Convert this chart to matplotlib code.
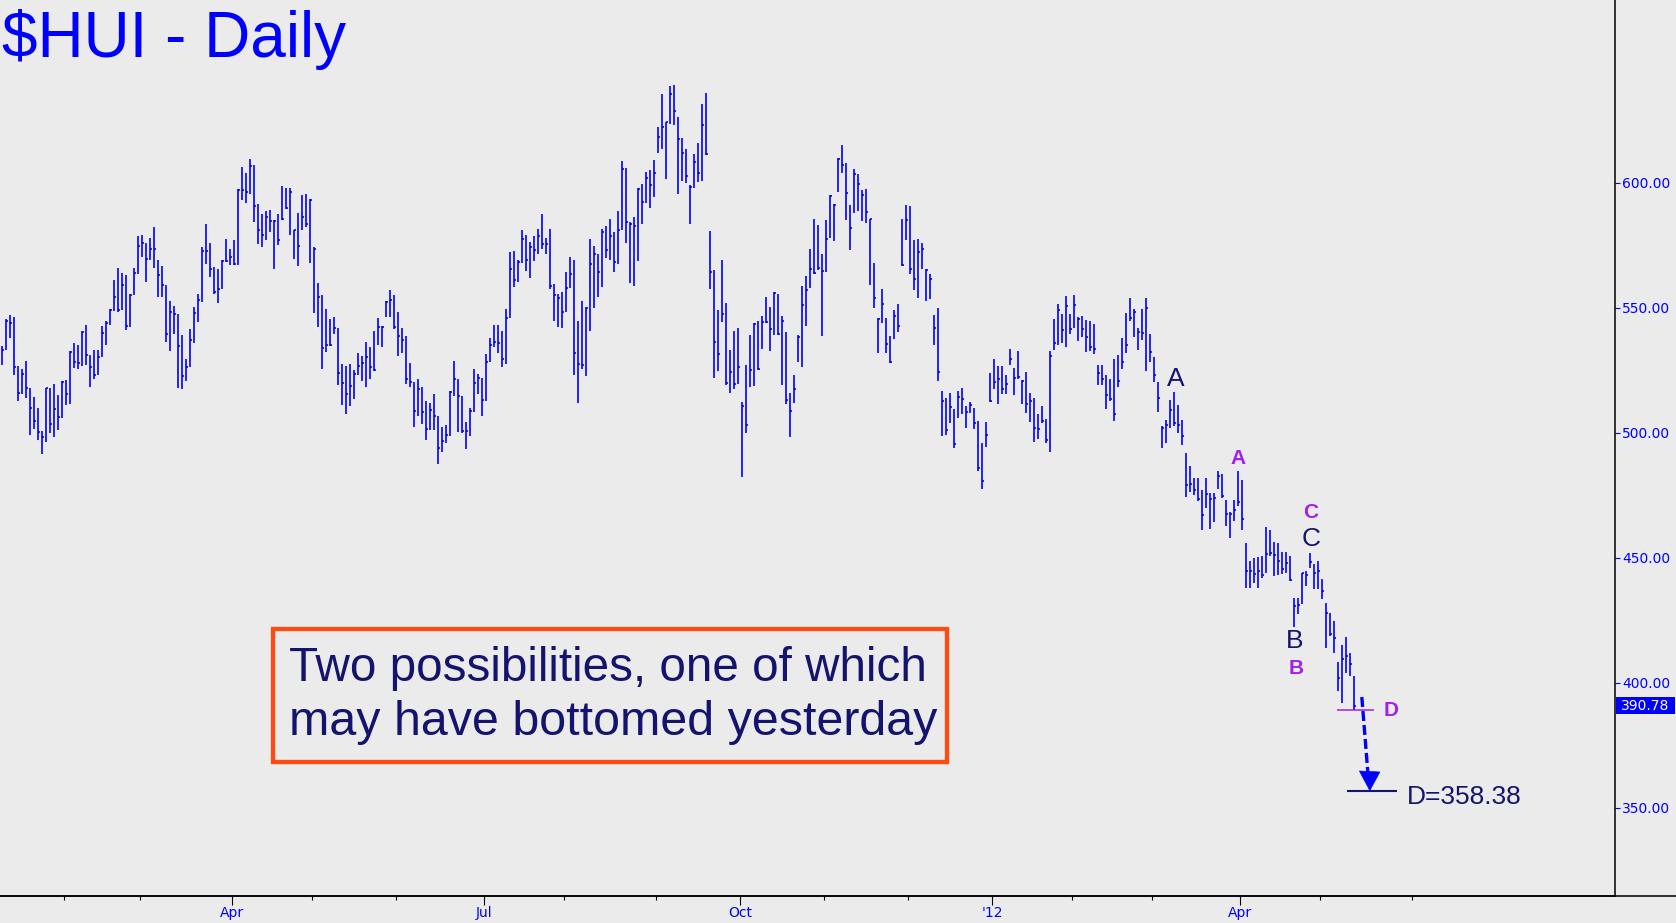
import numpy as np
import pandas as pd
import matplotlib
matplotlib.use("Agg")
import matplotlib.pyplot as plt
from matplotlib.collections import LineCollection
from matplotlib.patches import Rectangle, Polygon
from matplotlib.lines import Line2D
from matplotlib.ticker import FormatStrFormatter
import matplotlib.transforms as mtransforms

plt.rcParams['lines.scale_dashes'] = False

# ---------------- data (daily HLC, $HUI, 2011-01-07 .. 2012-05-11) ----------------
highs = [
    534.5, 545.6, 547.2, 546.3, 526.5, 525.5, 528.5, 517.8, 514.2, 509.9,
    500.8, 517.9, 517.9, 519.5, 514.9, 520.5, 521.1, 532.5, 536.0, 535.2,
    540.5, 542.9, 531.2, 533.2, 532.9, 542.5, 544.5, 549.6, 561.2, 565.9,
    564.0, 563.0, 555.5, 565.9, 578.7, 579.0, 576.0, 578.0, 582.2, 569.0,
    566.7, 558.9, 552.5, 550.7, 547.3, 538.9, 529.6, 541.3, 550.3, 555.6,
    574.3, 583.3, 575.9, 566.2, 565.3, 568.9, 577.3, 573.6, 576.9, 597.6,
    606.2, 603.9, 609.4, 607.0, 591.5, 587.3, 588.5, 589.0, 584.9, 587.3,
    598.6, 598.0, 597.9, 581.2, 587.9, 595.0, 595.4, 593.6, 574.3, 559.8,
    554.9, 549.3, 545.5, 546.1, 541.8, 527.5, 526.6, 527.5, 525.2, 531.8,
    530.8, 536.4, 534.2, 540.5, 545.9, 542.6, 552.5, 556.9, 554.9,
    548.1, 541.7, 538.5, 527.9, 520.2, 521.3, 518.2, 512.8, 512.0, 515.5,
    506.7, 502.4, 503.1, 516.8, 528.7, 521.5, 514.8, 504.4, 509.9, 525.3,
    523.3, 521.9, 531.3, 537.9, 542.9, 542.9, 540.5, 549.3, 572.2, 572.6,
    568.9, 581.0, 579.0, 576.3, 578.7, 581.6, 587.6, 578.0, 581.4, 559.6,
    555.3, 556.1, 564.1, 570.1, 568.9, 544.5, 552.5, 550.2,
    577.4, 574.6, 571.6, 581.4, 582.6, 585.4, 580.3, 588.6, 608.6, 605.7,
    584.3, 586.1, 597.7, 599.3, 604.1, 605.0, 609.0, 622.4, 635.5, 624.4,
    638.7, 639.1, 626.1, 618.0, 613.4, 599.0, 611.4, 615.7, 631.3, 635.8,
    580.6, 564.9, 548.9, 569.0, 552.0, 532.9, 540.6, 542.0, 512.2, 526.9,
    538.9, 544.0, 544.5, 546.6, 554.3, 550.3, 556.3, 555.6, 546.6,
    540.2, 515.7, 523.2, 539.2, 558.5, 562.5, 573.6, 585.3, 583.2, 571.3,
    584.9, 595.2, 591.6, 610.0, 615.0, 608.0, 590.9, 605.6, 603.6, 597.0,
    597.4, 585.6, 568.0, 545.9, 557.5, 545.9, 538.8, 548.9, 551.3, 585.6,
    590.9, 590.5, 576.9, 577.3, 575.8, 565.6, 563.6, 546.9, 549.9, 516.8,
    513.9, 515.7, 509.4, 516.5, 517.9, 510.5, 512.1, 509.9, 504.5,
    495.7, 504.4, 523.9, 529.5, 526.8, 526.8, 523.1, 533.5, 525.8, 532.8,
    521.1, 524.4, 515.7, 513.9, 507.5, 510.8, 505.5, 532.8, 545.3, 551.6,
    547.3, 554.5, 547.3, 554.9, 546.2, 546.5, 545.1, 544.5, 543.3, 527.2,
    527.2, 523.1, 521.5, 529.5, 531.1, 537.8, 547.8, 553.9, 549.3, 541.8,
    549.5, 553.9, 539.5, 530.4, 520.2, 502.5, 505.1, 513.1,
    516.2, 511.0, 505.0, 491.7, 486.8, 481.7, 481.8, 477.0, 481.8, 475.7,
    475.7, 484.5, 483.5, 473.2, 468.1, 473.0, 484.8, 481.0, 455.8, 448.7,
    449.8, 450.1, 450.7, 462.3, 461.1, 456.1, 455.8, 452.3, 452.1, 450.7,
    433.8, 434.0, 444.0, 444.7, 451.8, 447.4, 448.7, 441.4, 432.0, 428.0,
    424.7, 408.2, 415.1, 418.3, 412.0, 402.6,
]
lows = [
    527.1, 532.9, 537.8, 522.9, 512.7, 515.5, 513.8, 499.1, 501.5, 497.2,
    491.5, 496.2, 499.9, 498.2, 501.1, 505.8, 511.1, 511.5, 525.8, 525.5,
    526.6, 527.1, 518.2, 521.5, 522.9, 530.2, 535.2, 542.9, 548.5, 548.3,
    548.9, 541.2, 542.2, 555.2, 563.6, 570.3, 560.3, 569.0, 565.9, 554.3,
    554.3, 536.2, 532.8, 539.6, 517.8, 517.5, 520.6, 526.2, 536.0, 544.2,
    552.2, 567.6, 562.2, 555.5, 551.9, 557.3, 568.2, 566.9, 567.2, 567.2,
    593.0, 592.0, 595.6, 584.3, 575.5, 574.3, 577.2, 580.3, 565.6, 574.9,
    584.9, 589.6, 578.9, 569.6, 566.6, 580.9, 582.3, 568.0, 547.9, 542.2,
    525.5, 532.4, 534.8, 539.5, 519.1, 511.1, 507.5, 510.8, 513.5, 523.1,
    520.8, 518.1, 521.5, 524.6, 535.1, 534.4, 546.2, 546.2, 541.5,
    530.6, 531.8, 519.5, 518.2, 502.1, 506.8, 503.5, 497.1, 501.1, 501.1,
    487.4, 492.4, 495.7, 498.5, 514.6, 500.1, 499.7, 493.5, 498.5, 508.4,
    515.5, 506.6, 512.8, 528.2, 534.2, 531.9, 526.2, 527.5, 545.8, 558.3,
    560.3, 567.9, 564.5, 561.9, 568.5, 571.3, 573.6, 571.6, 557.6, 544.6,
    542.2, 542.0, 548.2, 557.9, 523.1, 511.9, 525.5, 522.6,
    540.6, 549.8, 554.3, 558.3, 569.9, 569.0, 564.3, 567.6, 581.0, 575.9,
    559.9, 558.7, 568.7, 583.5, 591.9, 589.9, 594.3, 611.7, 613.4, 601.3,
    623.3, 623.1, 595.3, 600.6, 599.9, 583.6, 597.7, 600.4, 600.6, 611.0,
    557.6, 521.8, 524.6, 544.2, 519.1, 515.9, 517.5, 519.5, 482.1, 499.9,
    518.2, 518.6, 525.1, 533.3, 544.0, 532.6, 538.9, 538.9, 518.9,
    511.4, 498.1, 511.7, 528.2, 526.1, 542.8, 557.8, 563.6, 564.9, 538.6,
    564.2, 577.9, 576.5, 596.3, 603.9, 585.2, 573.2, 587.9, 588.5, 584.7,
    583.9, 559.1, 549.8, 531.8, 543.8, 531.8, 527.9, 537.4, 540.2, 566.6,
    577.2, 563.4, 556.9, 553.8, 565.3, 552.6, 553.3, 535.1, 520.5, 498.5,
    499.0, 503.8, 493.8, 505.8, 507.4, 501.7, 507.8, 501.4, 484.5,
    477.4, 494.1, 512.1, 517.5, 511.5, 515.5, 515.5, 527.1, 515.1, 521.5,
    511.5, 507.9, 504.4, 496.1, 497.4, 503.9, 495.8, 492.4, 533.1, 534.9,
    535.9, 534.4, 539.5, 541.8, 536.5, 538.2, 532.2, 532.8, 531.5, 519.1,
    519.1, 509.5, 512.8, 504.8, 518.2, 525.5, 531.9, 544.5, 538.2, 533.1,
    536.9, 524.8, 528.4, 520.2, 508.4, 493.8, 495.7, 501.7,
    502.8, 500.0, 495.2, 474.1, 476.1, 475.0, 472.8, 461.1, 469.7, 461.4,
    464.3, 477.4, 473.7, 462.7, 457.7, 464.7, 470.8, 461.0, 437.8, 438.0,
    440.0, 438.0, 442.0, 444.0, 450.5, 442.7, 443.0, 443.6, 443.8, 440.7,
    422.4, 427.6, 431.4, 438.7, 445.8, 437.4, 437.4, 433.4, 414.0, 418.7,
    411.7, 396.6, 391.9, 404.0, 402.6, 389.0,
]
closes = [
    532.9, 544.5, 544.0, 526.2, 515.9, 523.5, 517.8, 509.9, 504.8, 500.4,
    498.2, 517.8, 503.5, 509.5, 506.2, 520.2, 515.5, 532.2, 528.2, 527.8,
    540.2, 530.9, 526.2, 523.1, 530.2, 540.0, 543.8, 549.2, 554.3, 548.9,
    558.9, 542.5, 555.2, 564.0, 574.7, 576.0, 569.4, 573.6, 573.6, 563.0,
    558.9, 539.6, 548.3, 547.6, 534.5, 522.5, 526.2, 536.9, 548.0, 552.9,
    572.5, 572.5, 565.6, 556.2, 557.3, 568.5, 568.5, 570.2, 567.6, 597.2,
    597.2, 596.3, 606.7, 590.6, 580.9, 578.9, 586.3, 584.5, 584.5, 576.9,
    585.3, 590.0, 596.3, 580.9, 574.5, 586.3, 583.3, 593.2, 573.6, 554.2,
    533.8, 535.1, 535.1, 541.8, 523.9, 519.9, 515.5, 518.8, 523.5, 526.8,
    527.9, 530.2, 526.2, 525.2, 542.2, 542.2, 552.2, 552.9, 542.2,
    538.8, 537.1, 521.5, 520.2, 508.8, 517.6, 508.4, 501.5, 509.2, 506.6,
    494.0, 496.5, 499.1, 516.2, 521.4, 514.6, 500.8, 500.8, 508.6, 519.8,
    521.8, 513.1, 528.2, 534.9, 536.2, 535.9, 529.5, 546.0, 565.3, 561.2,
    568.3, 577.4, 568.9, 574.2, 573.0, 578.6, 575.6, 575.4, 558.8, 554.9,
    554.0, 548.2, 557.9, 563.6, 531.8, 527.3, 526.9, 550.0,
    567.4, 571.3, 564.3, 580.3, 572.9, 578.6, 568.3, 581.0, 605.4, 584.3,
    583.6, 582.6, 597.3, 592.3, 601.7, 599.0, 603.7, 618.4, 622.4, 624.1,
    635.4, 628.7, 617.4, 611.7, 602.6, 598.2, 608.1, 603.7, 623.1, 611.3,
    564.3, 536.2, 531.5, 547.3, 519.9, 524.2, 519.5, 526.2, 510.8, 503.1,
    524.9, 543.6, 525.5, 544.2, 544.2, 541.6, 556.0, 539.6, 544.5,
    513.2, 508.8, 517.5, 538.2, 551.1, 556.9, 565.6, 564.0, 565.8, 564.5,
    577.3, 594.7, 590.9, 609.6, 607.2, 596.0, 582.0, 603.6, 599.6, 595.2,
    588.3, 585.3, 553.9, 545.5, 551.5, 535.5, 528.2, 546.6, 542.8, 567.2,
    584.9, 565.6, 561.3, 572.2, 573.3, 565.2, 561.6, 541.8, 524.4, 512.8,
    501.0, 510.1, 495.4, 514.1, 513.5, 508.1, 511.1, 503.8, 485.7,
    480.7, 499.0, 512.5, 520.2, 521.5, 517.5, 519.5, 529.5, 521.8, 522.2,
    520.8, 511.5, 512.8, 501.7, 501.4, 504.8, 497.2, 530.6, 535.9, 548.9,
    540.9, 550.5, 541.5, 551.2, 545.5, 541.5, 538.2, 534.2, 533.3, 523.9,
    521.5, 515.1, 513.5, 507.5, 520.8, 528.2, 535.1, 545.8, 548.2, 540.2,
    539.9, 549.8, 532.2, 523.1, 513.7, 501.7, 503.1, 509.2,
    504.0, 503.0, 498.8, 479.2, 479.4, 477.0, 473.4, 467.0, 475.4, 473.4,
    473.7, 482.8, 474.8, 467.4, 467.4, 469.2, 472.1, 465.4, 444.7, 444.7,
    443.4, 444.7, 443.0, 451.3, 451.7, 451.0, 448.7, 445.4, 448.0, 441.1,
    430.7, 430.9, 443.8, 443.1, 448.3, 443.8, 444.7, 436.7, 428.0, 419.3,
    418.0, 402.0, 409.3, 410.6, 407.3, 390.78,
]

last_close_label = "390.78"
target_label = "D=358.38"
title = "$HUI - Daily"
note_lines = ["Two possibilities, one of which", "may have bottomed yesterday"]
y_ticks = [350, 400, 450, 500, 550, 600]

nyse_holidays = ["2011-01-17", "2011-02-21", "2011-04-22", "2011-05-30", "2011-07-04",
                 "2011-09-05", "2011-11-24", "2011-12-26", "2012-01-02", "2012-01-16",
                 "2012-02-20", "2012-04-06"]
dates = pd.bdate_range("2011-01-07", "2012-05-11", freq="C", holidays=nyse_holidays)
future = pd.bdate_range("2012-05-14", "2012-06-29")
calendar = dates.append(future)

n = min(len(dates), len(highs), len(lows), len(closes))
hi = np.array(highs[:n]); lo = np.array(lows[:n]); cl = np.array(closes[:n])
xs = np.arange(n)

# ---------------- style ----------------
BG = "#EBEBEB"
BLUE = "#0000FF"
NAVY = "#14146E"
PURPLE = "#A020F0"
ORANGE = "#FF4A10"
W, H = 1676, 923

fig = plt.figure(figsize=(W / 100, H / 100), dpi=100, facecolor=BG)
ax = fig.add_axes([0, 27 / H, 1615 / W, 896 / H], facecolor=BG)

# bars
segs = [[(x, l), (x, h)] for x, l, h in zip(xs, lo, hi)]
segs += [[(x, c), (x + 0.5, c)] for x, c in zip(xs, cl)]
lc = LineCollection(segs, colors=BLUE, linewidths=1.2, antialiaseds=True)
ax.add_collection(lc)

ax.set_xlim(-0.575, 403.2)
ax.set_ylim(314.6, 673.0)

# x ticks at month starts
month_start = [i for i in range(1, len(calendar)) if calendar[i].month != calendar[i - 1].month]
major = [i for i in month_start if calendar[i].month in (1, 4, 7, 10)]
minor = [i for i in month_start if calendar[i].month not in (1, 4, 7, 10)]
ax.set_xticks([i - 0.5 for i in major])
ax.set_xticklabels([("'" + calendar[i].strftime("%y")) if calendar[i].month == 1
                    else calendar[i].strftime("%b") for i in major])
ax.set_xticks([i - 0.5 for i in minor], minor=True)
ax.tick_params(axis="x", which="major", direction="out", length=6.5, width=0.8,
               color="black", labelcolor=BLUE, labelsize=10, pad=1)
ax.tick_params(axis="x", which="minor", direction="out", length=2.9, width=0.8, color="black")

ax.yaxis.tick_right()
ax.set_yticks(y_ticks)
ax.yaxis.set_major_formatter(FormatStrFormatter("%.2f"))
ax.tick_params(axis="y", which="major", direction="out", length=3.6, width=0.8,
               color=BLUE, labelcolor=BLUE, labelsize=10, pad=1.5)

for s in ("left", "top"):
    ax.spines[s].set_visible(False)
for s in ("right", "bottom"):
    ax.spines[s].set_color("black")
    ax.spines[s].set_linewidth(1.1)
fig.add_artist(Line2D([0, 1], [27 / H, 27 / H], transform=fig.transFigure, color="black", lw=1.1))

# last price box
bt = mtransforms.blended_transform_factory(fig.transFigure, ax.transData)
ax.add_patch(Rectangle((1616 / W, cl[-1] - 3.4), 59 / W, 6.8, transform=bt,
                       facecolor=BLUE, edgecolor="none", clip_on=False, zorder=5))
ax.text(1645 / W, cl[-1], last_close_label, transform=bt, ha="center", va="center",
        color="white", fontsize=10, clip_on=False, zorder=6)

# title
fig.text(2 / W, 1 - 57 / H, title, color=BLUE, fontsize=46, family="Liberation Sans",
         va="baseline", ha="left")

# note box
fig.add_artist(Rectangle((272.6 / W, 1 - 762 / H), (947 - 272.6) / W, (762 - 628.5) / H,
                         transform=fig.transFigure, facecolor="none", edgecolor=ORANGE, lw=3.1))
fig.text(289 / W, 1 - 681 / H, note_lines[0], color=NAVY, fontsize=34.3,
         family="Liberation Sans", va="baseline", ha="left")
fig.text(289 / W, 1 - 735 / H, note_lines[1], color=NAVY, fontsize=34.8,
         family="Liberation Sans", va="baseline", ha="left")

# wave labels
ax.text(293.4, 518.4, "A", color=NAVY, fontsize=19, family="Liberation Sans", ha="center", va="baseline")
ax.text(308.9, 487.6, "A", color=PURPLE, fontsize=15, fontweight="bold", family="Liberation Sans", ha="center", va="baseline")
ax.text(327.2, 466.0, "C", color=PURPLE, fontsize=15, fontweight="bold", family="Liberation Sans", ha="center", va="baseline")
ax.text(327.2, 454.8, "C", color=NAVY, fontsize=19, family="Liberation Sans", ha="center", va="baseline")
ax.text(323.2, 413.6, "B", color=NAVY, fontsize=19, family="Liberation Sans", ha="center", va="baseline")
ax.text(323.4, 403.6, "B", color=PURPLE, fontsize=15, fontweight="bold", family="Liberation Sans", ha="center", va="baseline")
ax.text(347.2, 386.4, "D", color=PURPLE, fontsize=15, fontweight="bold", family="Liberation Sans", ha="center", va="baseline")

# purple low line
ax.plot([333.7, 342.9], [389.1, 389.1], color=PURPLE, lw=1.1, solid_capstyle="butt")

# target line and label
target_y = 356.8
ax.plot([336.2, 348.7], [target_y, target_y], color=NAVY, lw=1.5, solid_capstyle="butt")
ax.text(351.2, 351.6, target_label, color=NAVY, fontsize=19, family="Liberation Sans",
        ha="left", va="baseline")

# dashed arrow
ax.plot([339.9, 341.4], [394.2, 364.2], color=BLUE, lw=2.4, dashes=(7.2, 2.9),
        solid_capstyle="butt", dash_capstyle="butt")
ax.add_patch(Polygon([[341.9, target_y], [339.3, 364.6], [344.4, 364.2]], closed=True,
                     facecolor=BLUE, edgecolor=BLUE, lw=0.5))

fig.savefig("out.png", dpi=100, facecolor=BG)
